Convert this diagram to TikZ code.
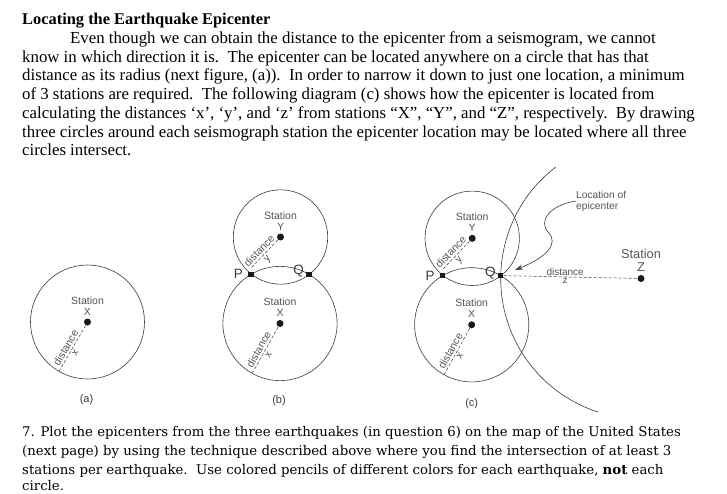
\documentclass[tikz,border=0pt]{standalone}
\usepackage{fontspec}
\setmainfont{Liberation Serif}
\setsansfont{Liberation Sans}
\newfontfamily\qfont{DejaVu Serif}
\usetikzlibrary{positioning,arrows.meta}
\definecolor{ink}{RGB}{60,60,60}
\definecolor{lgray}{RGB}{85,85,85}
\definecolor{dotc}{RGB}{25,25,25}
\tikzset{
  body/.style={anchor=base west, inner sep=0pt, font=\fontsize{16.8}{18}\selectfont},
  qtext/.style={anchor=base west, inner sep=0pt, font=\qfont\fontsize{13.3}{15}\selectfont},
  ring/.style={draw=ink, line width=0.6pt},
  stn/.style={circle, fill=dotc, inner sep=0pt, minimum size=7pt},
  pt/.style={rectangle, fill=dotc, inner sep=0pt, minimum size=5.5pt},
  lbl/.style={font=\sffamily\fontsize{10.5}{11}\selectfont, text=lgray, align=center, inner sep=0pt},
  dlbl/.style={font=\sffamily\fontsize{10.5}{11}\selectfont, text=lgray, inner sep=2pt},
  pq/.style={font=\sffamily\fontsize{13.5}{13.5}\selectfont, text=ink, inner sep=0pt},
  figcap/.style={font=\sffamily\fontsize{11}{11}\selectfont, text=ink},
  dist/.style={draw=ink, dash pattern=on 3pt off 2pt, line width=0.5pt},
  lead/.style={draw=ink, line width=0.6pt, -{Stealth[length=8pt,width=5pt]}}
}
\begin{document}
\begin{tikzpicture}[x=1pt,y=-1pt]
  \fill[white] (0,0) rectangle (727,494);
  \useasboundingbox (0,0) rectangle (727,494);
  % text above the figure
  \node[body, font=\bfseries\fontsize{16.4}{18}\selectfont] (title) at (22,25) {Locating the Earthquake Epicenter};
  \node[body] (l1) at (70,44) {Even though we can obtain the distance to the epicenter from a seismogram, we cannot};
  \node[body] (l2) at (22,62.5) {know in which direction it is.\ \ The epicenter can be located anywhere on a circle that has that};
  \node[body] (l3) at (22,81) {distance as its radius (next figure, (a)).\ \ In order to narrow it down to just one location, a minimum};
  \node[body] (l4) at (22,100) {of 3 stations are required.\ \ The following diagram (c) shows how the epicenter is located from};
  \node[body] (l5) at (22,119) {calculating the distances `x', `y', and `z' from stations ``X'', ``Y'', and ``Z'', respectively.\ \ By drawing};
  \node[body] (l6) at (22,137.5) {three circles around each seismograph station the epicenter location may be located where all three};
  \node[body] (l7) at (22,156) {circles intersect.};
  % (a) one station
  \node[stn] (xa) at (87.5,322) {};
  \draw[ring] (xa) circle[radius=57];
  \node[lbl, above=3pt of xa] (sxa) {Station\\X};
  \coordinate (exa) at ([shift={(120:57)}]xa.center);
  \draw[dist] (exa) -- (xa) node[dlbl, pos=0.45, sloped, above] {distance} node[dlbl, pos=0.45, sloped, below] {x};
  \node[figcap] (ca) at (86.5,400) {(a)};
  % (b) two stations
  \node[stn] (yb) at (280.5,237) {};
  \node[stn] (xb) at (280,323.5) {};
  \draw[ring] (yb) circle[radius=47.2];
  \draw[ring] (xb) circle[radius=57.1];
  \node[pt] (pb) at (251,274.3) {};
  \node[pt] (qb) at (309,274.3) {};
  \node[pq, left=5pt of pb] {P};
  \node[pq, left=2pt of qb, yshift=3pt] {Q};
  \node[lbl, above=3pt of yb] (syb) {Station\\Y};
  \node[lbl, above=3pt of xb] (sxb) {Station\\X};
  \coordinate (eyb) at ([shift={(133.5:42)}]yb.center);
  \coordinate (exb) at ([shift={(119:57.1)}]xb.center);
  \draw[dist] (eyb) -- (yb) node[dlbl, pos=0.45, sloped, above] {distance} node[dlbl, pos=0.45, sloped, below] {y};
  \draw[dist] (exb) -- (xb) node[dlbl, pos=0.45, sloped, above] {distance} node[dlbl, pos=0.45, sloped, below] {x};
  \node[figcap] (cb) at (279,401) {(b)};
  % (c) three stations
  \node[stn] (yc) at (472.2,238.3) {};
  \node[stn] (xc) at (471.7,324.8) {};
  \node[stn] (zc) at (641,278.5) {};
  \draw[ring] (yc) circle[radius=47.2];
  \draw[ring] (xc) circle[radius=57.1];
  \draw[ring] ([shift={(232.6:140.3)}]zc.center) arc[start angle=232.6, end angle=107.9, radius=140.3];
  \node[pt] (pc) at (442.7,275.6) {};
  \node[pt] (qc) at (500.7,275.6) {};
  \node[pq, left=5pt of pc] {P};
  \node[pq, left=2pt of qc, yshift=3pt] {Q};
  \node[lbl, above=3pt of yc] (syc) {Station\\Y};
  \node[lbl, above=3pt of xc] (sxc) {Station\\X};
  \node[lbl, font=\sffamily\fontsize{12.8}{13.5}\selectfont, above=3pt of zc] (szc) {Station\\Z};
  \coordinate (eyc) at ([shift={(133.5:42)}]yc.center);
  \coordinate (exc) at ([shift={(119:57.1)}]xc.center);
  \draw[dist] (eyc) -- (yc) node[dlbl, pos=0.45, sloped, above] {distance} node[dlbl, pos=0.45, sloped, below] {y};
  \draw[dist] (exc) -- (xc) node[dlbl, pos=0.45, sloped, above] {distance} node[dlbl, pos=0.45, sloped, below] {x};
  \draw[dist] (qc) -- (zc) node[dlbl, font=\sffamily\fontsize{10}{10}\selectfont, pos=0.46, above, inner sep=1pt] {distance}
    node[dlbl, font=\sffamily\fontsize{10}{10}\selectfont, pos=0.46, below, inner sep=1.5pt] {z};
  \node[dlbl, font=\sffamily\fontsize{10.2}{11}\selectfont, align=left, anchor=west, inner sep=0pt] (loc) at (576,201) {Location of\\epicenter};
  \coordinate (tip) at (515,270);
  \draw[lead] (loc.west) .. controls (550,205) and (538,221) .. (548,232)
    .. controls (560,244) and (545,258) .. (tip);
  \node[figcap] (cc) at (471.7,404) {(c)};
  % text below the figure
  \node[qtext] (q1) at (22,436.5) {7. Plot the epicenters from the three earthquakes (in question 6) on the map of the United States};
  \node[qtext] (q2) at (22,455.3) {(next page) by using the technique described above where you find the intersection of at least 3};
  \node[qtext] (q3) at (22,474) {stations per earthquake.\ \ Use colored pencils of different colors for each earthquake, \textbf{not} each};
  \node[qtext] (q4) at (22,490.5) {circle.};
\end{tikzpicture}
\end{document}
